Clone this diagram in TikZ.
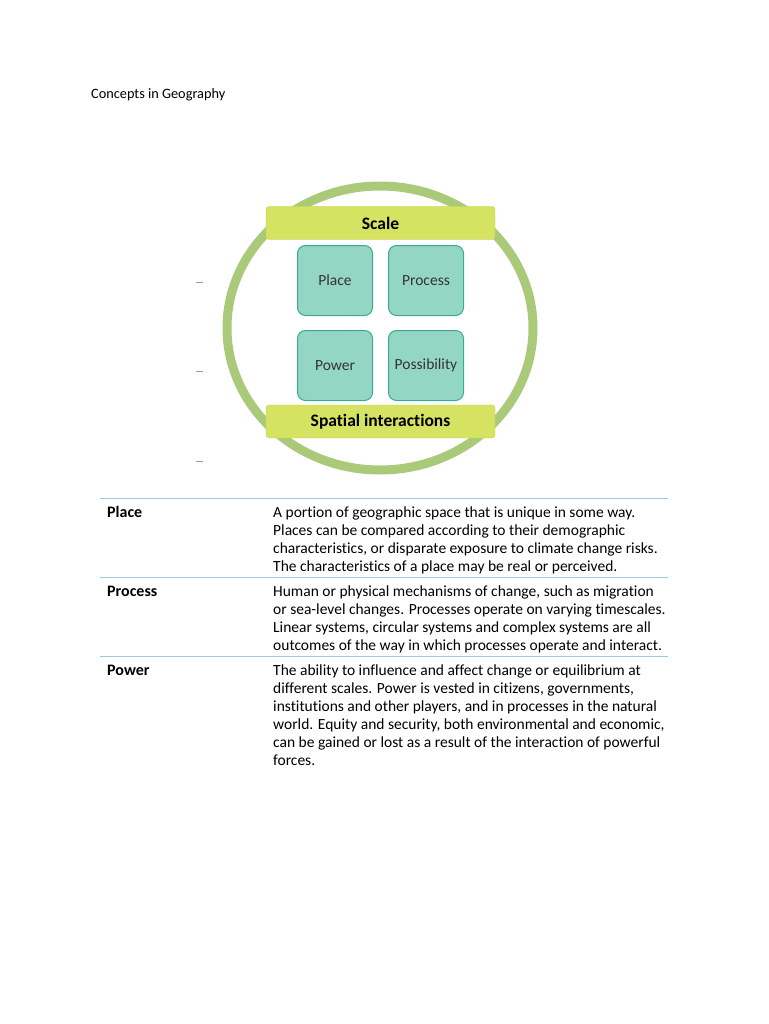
\documentclass[tikz,border=0pt]{standalone}
\usepackage{fontspec}
\setmainfont{Carlito}[Ligatures=NoCommon]
\usetikzlibrary{positioning}

\definecolor{ringgreen}{RGB}{170,202,122}
\definecolor{barfill}{RGB}{214,226,98}
\definecolor{bardraw}{RGB}{196,212,80}
\definecolor{boxfill}{RGB}{148,214,196}
\definecolor{boxdraw}{RGB}{58,172,142}
\definecolor{rulecol}{RGB}{160,200,226}
\definecolor{dashcol}{RGB}{140,160,180}

\begin{document}
\begin{tikzpicture}
[
	              x = 1pt, y = -1pt,
	     ring/.style = { draw=ringgreen, line width=9pt },
	      bar/.style = { draw=bardraw, fill=barfill, rounded corners=3pt, minimum width=229pt,
	                     minimum height=33pt, font=\fontsize{17.5}{20}\selectfont\bfseries },
	  concept/.style = { draw=boxdraw, fill=boxfill, line width=1pt, rounded corners=8pt,
	                     minimum width=75pt, minimum height=70pt, text=black!80,
	                     font=\fontsize{15.5}{18}\selectfont },
	     term/.style = { anchor=base west, inner sep=0pt, font=\fontsize{16}{18}\selectfont\bfseries },
	     desc/.style = { anchor=base west, inner sep=0pt, align=left,
	                     font=\fontsize{15.5}{18}\selectfont },
	   tabrule/.style = { draw=rulecol, line width=1pt },
	    tick/.style = { draw=dashcol, line width=0.8pt }
]
	\useasboundingbox (0,0) rectangle (768,1024);

	\node (title) at (91,99) [anchor=base west, inner sep=0pt, font=\fontsize{14.3}{16}\selectfont]
		{Concepts in Geography};

	% ring and the diagram inside it
	\draw [ring] (380,328) ellipse [x radius=153pt, y radius=142pt];
	\node (scale)   at (380.5,223) [bar] {Scale};
	\node (spatial) at (380.5,421.5) [bar] {Spatial interactions};
	\node (place)   at (335,280.5) [concept] {Place};
	\node (process) [concept, right=15pt of place] {Process};
	\node (power)   [concept, below=14pt of place] {Power};
	\node (possib)  [concept, below=14pt of process] {Possibility};

	% stray marks on the left
	\foreach \y in {282,371,461}
		\draw [tick] (196,\y) -- (203,\y);

	% table
	\coordinate (r1a) at (100,498);  \coordinate (r1b) at (668,498);
	\coordinate (r2a) at (100,577);  \coordinate (r2b) at (668,577);
	\coordinate (r3a) at (100,656);  \coordinate (r3b) at (668,656);
	\draw [tabrule] (r1a) -- (r1b);
	\draw [tabrule] (r2a) -- (r2b);
	\draw [tabrule] (r3a) -- (r3b);

	% (base of a multi-line node = its last line)
	\node (tplace) at (107,517) [term] {Place};
	\node (dplace) at (273,571) [desc]
		{A portion of geographic space that is unique in some way.\\
		 Places can be compared according to their demographic\\
		 characteristics, or disparate exposure to climate change risks.\\
		 The characteristics of a place may be real or perceived.};

	\node (tprocess) at (107,596) [term] {Process};
	\node (dprocess) at (273,650) [desc]
		{Human or physical mechanisms of change, such as migration\\
		 or sea-level changes. Processes operate on varying timescales.\\
		 Linear systems, circular systems and complex systems are all\\
		 outcomes of the way in which processes operate and interact.};

	\node (tpower) at (107,675) [term] {Power};
	\node (dpower) at (273,765) [desc]
		{The ability to influence and affect change or equilibrium at\\
		 different scales. Power is vested in citizens, governments,\\
		 institutions and other players, and in processes in the natural\\
		 world. Equity and security, both environmental and economic,\\
		 can be gained or lost as a result of the interaction of powerful\\
		 forces.};

\end{tikzpicture}
\end{document}
